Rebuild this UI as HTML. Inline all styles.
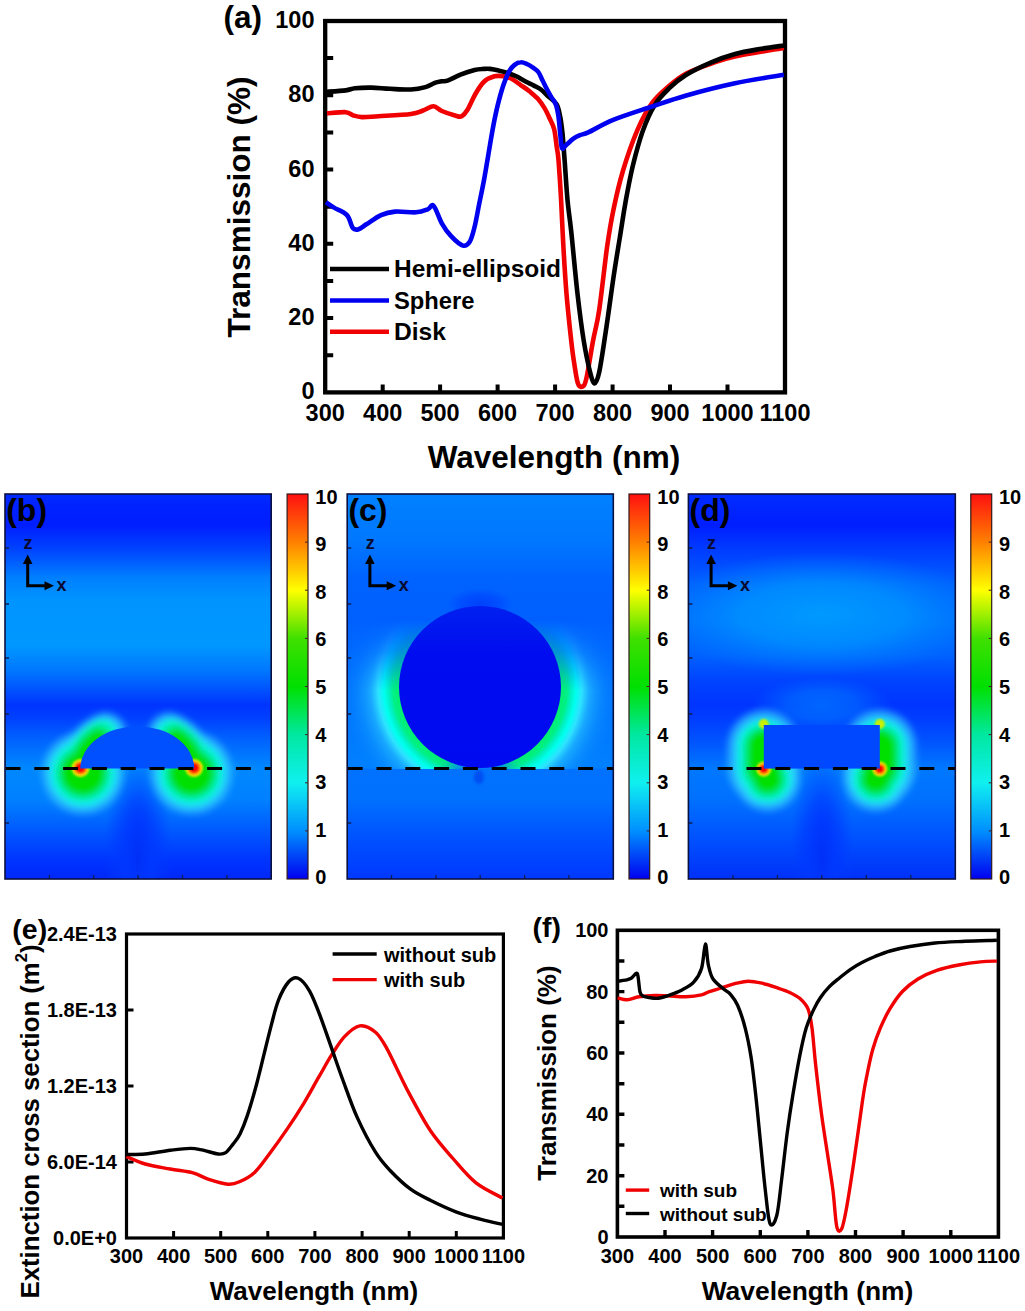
<!DOCTYPE html>
<html><head><meta charset="utf-8"><title>Figure</title>
<style>
html,body{margin:0;padding:0;background:#fff;}
svg{display:block;}
text{font-family:"Liberation Sans", sans-serif;}
</style></head>
<body>
<svg width="1025" height="1311" viewBox="0 0 1025 1311">
<defs><linearGradient id="cbar" x1="0" y1="1" x2="0" y2="0">
<stop offset="0" stop-color="#0000f0"/><stop offset="0.125" stop-color="#0090ff"/>
<stop offset="0.25" stop-color="#10f0f0"/><stop offset="0.375" stop-color="#00e8a0"/>
<stop offset="0.5" stop-color="#00e000"/><stop offset="0.625" stop-color="#40e000"/>
<stop offset="0.75" stop-color="#ffff00"/><stop offset="0.875" stop-color="#ff8000"/>
<stop offset="1" stop-color="#ff1010"/></linearGradient><linearGradient id="bgb" x1="0" y1="0" x2="0" y2="1"><stop offset="0.000" stop-color="#002cff"/><stop offset="0.029" stop-color="#0022ff"/><stop offset="0.081" stop-color="#001eff"/><stop offset="0.145" stop-color="#0044ff"/><stop offset="0.218" stop-color="#0080ff"/><stop offset="0.275" stop-color="#0094ff"/><stop offset="0.392" stop-color="#0098ff"/><stop offset="0.457" stop-color="#0078ff"/><stop offset="0.499" stop-color="#005aff"/><stop offset="0.548" stop-color="#0034ff"/><stop offset="0.582" stop-color="#0040ff"/><stop offset="0.626" stop-color="#005cff"/><stop offset="0.712" stop-color="#0088ff"/><stop offset="0.795" stop-color="#0080ff"/><stop offset="0.873" stop-color="#005aff"/><stop offset="0.951" stop-color="#0034ff"/><stop offset="1.000" stop-color="#0028f8"/></linearGradient><linearGradient id="bgd" x1="0" y1="0" x2="0" y2="1"><stop offset="0.000" stop-color="#002cff"/><stop offset="0.081" stop-color="#001eff"/><stop offset="0.145" stop-color="#003cff"/><stop offset="0.236" stop-color="#0062ff"/><stop offset="0.327" stop-color="#0070ff"/><stop offset="0.418" stop-color="#0062ff"/><stop offset="0.483" stop-color="#0044ff"/><stop offset="0.548" stop-color="#0034ff"/><stop offset="0.592" stop-color="#0040ff"/><stop offset="0.652" stop-color="#0058ff"/><stop offset="0.712" stop-color="#0078ff"/><stop offset="0.795" stop-color="#0070ff"/><stop offset="0.899" stop-color="#0050ff"/><stop offset="1.000" stop-color="#0030f8"/></linearGradient><linearGradient id="bgc" x1="0" y1="0" x2="0" y2="1"><stop offset="0.000" stop-color="#0080ff"/><stop offset="0.119" stop-color="#0078ff"/><stop offset="0.223" stop-color="#0062ff"/><stop offset="0.327" stop-color="#0060ff"/><stop offset="0.483" stop-color="#0070ff"/><stop offset="0.712" stop-color="#0080ff"/><stop offset="0.714" stop-color="#0072ff"/><stop offset="0.795" stop-color="#0070ff"/><stop offset="0.899" stop-color="#0050ff"/><stop offset="1.000" stop-color="#0038ff"/></linearGradient><radialGradient id="lobe"><stop offset="0" stop-color="#00e000" stop-opacity="1"/><stop offset="0.3" stop-color="#00e000" stop-opacity="1"/><stop offset="0.5" stop-color="#00e860" stop-opacity="1"/><stop offset="0.62" stop-color="#00f0c0" stop-opacity="1"/><stop offset="0.72" stop-color="#10f8f8" stop-opacity="1"/><stop offset="0.82" stop-color="#20c8ff" stop-opacity="0.8"/><stop offset="0.91" stop-color="#0098ff" stop-opacity="0.45"/><stop offset="1" stop-color="#0080ff" stop-opacity="0"/></radialGradient><radialGradient id="hot"><stop offset="0" stop-color="#ff0000" stop-opacity="1"/><stop offset="0.55" stop-color="#ff0800" stop-opacity="1"/><stop offset="0.72" stop-color="#ff9000" stop-opacity="1"/><stop offset="0.86" stop-color="#f0f000" stop-opacity="0.9"/><stop offset="1" stop-color="#80f000" stop-opacity="0"/></radialGradient><radialGradient id="glow"><stop offset="0" stop-color="#00e030" stop-opacity="1"/><stop offset="0.4" stop-color="#00e880" stop-opacity="1"/><stop offset="0.65" stop-color="#10f4e8" stop-opacity="0.9"/><stop offset="0.82" stop-color="#20b8fc" stop-opacity="0.5"/><stop offset="1" stop-color="#0a80f8" stop-opacity="0"/></radialGradient><radialGradient id="azure"><stop offset="0" stop-color="#009cff" stop-opacity="0.95"/><stop offset="0.5" stop-color="#0094ff" stop-opacity="0.75"/><stop offset="1" stop-color="#0080ff" stop-opacity="0"/></radialGradient><radialGradient id="dark"><stop offset="0" stop-color="#0030f8" stop-opacity="0.95"/><stop offset="0.6" stop-color="#0038ff" stop-opacity="0.6"/><stop offset="1" stop-color="#0040ff" stop-opacity="0"/></radialGradient><radialGradient id="yspot"><stop offset="0" stop-color="#e0f000" stop-opacity="1"/><stop offset="0.3" stop-color="#80f000" stop-opacity="1"/><stop offset="0.6" stop-color="#00e880" stop-opacity="0.8"/><stop offset="1" stop-color="#10e0f0" stop-opacity="0"/></radialGradient><radialGradient id="ring"><stop offset="0" stop-color="#00f070" stop-opacity="1"/><stop offset="0.574468085106383" stop-color="#00f070" stop-opacity="1"/><stop offset="0.6170212765957447" stop-color="#00f088" stop-opacity="1"/><stop offset="0.6453900709219859" stop-color="#00f0c0" stop-opacity="1"/><stop offset="0.6808510638297872" stop-color="#00fff0" stop-opacity="1"/><stop offset="0.723404255319149" stop-color="#30e8ff" stop-opacity="0.95"/><stop offset="0.7801418439716312" stop-color="#20b8ff" stop-opacity="0.75"/><stop offset="0.8723404255319149" stop-color="#1098ff" stop-opacity="0.45"/><stop offset="1" stop-color="#0080ff" stop-opacity="0"/></radialGradient><linearGradient id="ringmaskg" x1="0" y1="0" x2="0" y2="1"><stop offset="0" stop-color="#000"/><stop offset="0.3" stop-color="#000"/><stop offset="0.45" stop-color="#555"/><stop offset="0.63" stop-color="#fff"/><stop offset="1" stop-color="#fff"/></linearGradient><mask id="ringmask" maskUnits="userSpaceOnUse" x="340" y="490" width="280" height="400"><rect x="340" y="557" width="280" height="212" fill="url(#ringmaskg)"/><ellipse cx="480" cy="772" rx="30" ry="22" fill="#000" filter="url(#bl8)"/></mask><linearGradient id="sph" x1="0" y1="0" x2="0" y2="1"><stop offset="0" stop-color="#0020f0"/><stop offset="0.3" stop-color="#000cf0"/><stop offset="1" stop-color="#000af0"/></linearGradient><filter id="bl1" filterUnits="userSpaceOnUse" x="0" y="400" width="1025" height="520"><feGaussianBlur stdDeviation="1"/></filter><filter id="bl2" filterUnits="userSpaceOnUse" x="0" y="400" width="1025" height="520"><feGaussianBlur stdDeviation="1.5"/></filter><filter id="bl3" filterUnits="userSpaceOnUse" x="0" y="400" width="1025" height="520"><feGaussianBlur stdDeviation="3.5"/></filter><filter id="bl4" filterUnits="userSpaceOnUse" x="0" y="400" width="1025" height="520"><feGaussianBlur stdDeviation="4"/></filter><filter id="bl5" filterUnits="userSpaceOnUse" x="0" y="400" width="1025" height="520"><feGaussianBlur stdDeviation="5"/></filter><filter id="bl8" filterUnits="userSpaceOnUse" x="0" y="400" width="1025" height="520"><feGaussianBlur stdDeviation="8"/></filter></defs>
<rect width="1025" height="1311" fill="#fff"/>
<rect x="325.2" y="21.0" width="459.8" height="371.4" fill="none" stroke="#000" stroke-width="4.3"/>
<path d="M382.7,392.4 v-8 M440.1,392.4 v-8 M497.6,392.4 v-8 M555.1,392.4 v-8 M612.6,392.4 v-8 M670.0,392.4 v-8 M727.5,392.4 v-8 M325.2,355.3 h8 M325.2,318.1 h8 M325.2,281.0 h8 M325.2,243.8 h8 M325.2,206.7 h8 M325.2,169.6 h8 M325.2,132.4 h8 M325.2,95.3 h8 M325.2,58.1 h8" stroke="#000" stroke-width="4"/>
<text x="325.2" y="421" font-size="23.5" font-weight="bold" text-anchor="middle" >300</text>
<text x="382.7" y="421" font-size="23.5" font-weight="bold" text-anchor="middle" >400</text>
<text x="440.1" y="421" font-size="23.5" font-weight="bold" text-anchor="middle" >500</text>
<text x="497.6" y="421" font-size="23.5" font-weight="bold" text-anchor="middle" >600</text>
<text x="555.1" y="421" font-size="23.5" font-weight="bold" text-anchor="middle" >700</text>
<text x="612.6" y="421" font-size="23.5" font-weight="bold" text-anchor="middle" >800</text>
<text x="670.0" y="421" font-size="23.5" font-weight="bold" text-anchor="middle" >900</text>
<text x="727.5" y="421" font-size="23.5" font-weight="bold" text-anchor="middle" >1000</text>
<text x="785.0" y="421" font-size="23.5" font-weight="bold" text-anchor="middle" >1100</text>
<text x="314.5" y="399.4" font-size="23.5" font-weight="bold" text-anchor="end" >0</text>
<text x="314.5" y="325.1" font-size="23.5" font-weight="bold" text-anchor="end" >20</text>
<text x="314.5" y="250.8" font-size="23.5" font-weight="bold" text-anchor="end" >40</text>
<text x="314.5" y="176.6" font-size="23.5" font-weight="bold" text-anchor="end" >60</text>
<text x="314.5" y="102.3" font-size="23.5" font-weight="bold" text-anchor="end" >80</text>
<text x="314.5" y="28.0" font-size="23.5" font-weight="bold" text-anchor="end" >100</text>
<text x="223.5" y="28" font-size="31.5" font-weight="bold" text-anchor="start" >(a)</text>
<text x="554" y="467.5" font-size="31.5" font-weight="bold" text-anchor="middle" >Wavelength (nm)</text>
<text transform="translate(250,207) rotate(-90)" font-size="31.5" font-weight="bold" text-anchor="middle">Transmission (%)</text>
<g fill="none" stroke-width="4.6" stroke-linejoin="round">
<path d="M327.0,113.4 C330.1,113.2 341.5,111.9 345.8,112.2 C350.1,112.5 350.1,114.4 352.8,115.2 C355.5,116.0 357.7,116.9 362.0,117.1 C366.3,117.3 370.3,116.7 378.5,116.2 C386.7,115.7 403.6,115.0 411.0,114.0 C418.4,113.0 419.2,111.8 423.0,110.5 C426.8,109.2 430.5,106.2 433.6,106.3 C436.7,106.4 438.1,109.4 441.8,111.0 C445.5,112.6 452.5,114.8 455.8,115.7 C459.1,116.6 459.8,117.2 461.7,116.2 C463.6,115.2 465.2,113.6 467.5,109.8 C469.8,106.0 472.9,98.2 475.7,93.5 C478.4,88.8 480.9,84.6 484.0,81.7 C487.1,78.8 491.2,77.2 494.4,76.3 C497.6,75.4 500.3,75.8 503.2,76.3 C506.1,76.8 509.1,77.5 512.0,79.0 C514.9,80.5 517.8,83.0 520.7,85.1 C523.6,87.1 526.6,88.9 529.5,91.3 C532.4,93.7 535.8,96.4 538.3,99.2 C540.8,102.0 542.5,104.7 544.4,107.9 C546.3,111.1 548.1,115.0 549.7,118.5 C551.3,122.0 552.9,124.3 554.1,129.0 C555.3,133.7 556.0,141.4 556.7,146.6 C557.4,151.8 557.8,151.1 558.5,160.0 C559.2,168.9 560.3,185.5 561.1,200.0 C561.9,214.5 562.5,231.2 563.4,246.8 C564.3,262.4 565.2,278.1 566.5,293.7 C567.8,309.3 569.9,328.8 571.2,340.5 C572.5,352.2 573.1,356.6 574.3,363.9 C575.5,371.2 576.6,380.5 578.2,384.2 C579.8,387.9 582.3,387.1 583.7,385.8 C585.1,384.5 585.2,383.9 586.8,376.4 C588.4,368.8 591.0,351.7 593.1,340.5 C595.2,329.3 597.0,324.9 599.3,309.3 C601.6,293.7 604.8,263.4 607.1,246.8 C609.5,230.2 610.8,222.6 613.4,210.0 C616.0,197.4 618.9,184.4 622.9,171.0 C626.9,157.6 632.7,141.0 637.6,129.6 C642.5,118.2 646.9,110.1 652.2,102.8 C657.5,95.5 663.6,90.6 669.3,85.7 C675.0,80.8 679.4,77.2 686.3,73.5 C693.2,69.8 702.6,66.6 710.7,63.8 C718.8,61.0 722.8,59.1 735.0,56.5 C747.2,53.9 775.8,49.3 783.9,47.9" stroke="#f00000"/>
<path d="M327.0,91.8 C330.1,91.6 341.1,91.0 345.8,90.4 C350.5,89.8 350.7,88.8 355.0,88.3 C359.3,87.8 365.7,87.5 371.5,87.6 C377.3,87.7 383.4,88.5 390.0,88.8 C396.6,89.1 405.1,89.8 411.0,89.5 C416.9,89.2 421.4,88.2 425.4,87.1 C429.4,86.0 432.1,83.9 434.8,82.9 C437.5,81.9 439.7,81.7 441.8,81.3 C443.9,80.9 444.5,81.7 447.6,80.6 C450.7,79.5 456.0,76.5 460.5,74.7 C465.0,72.9 470.7,71.0 474.6,70.0 C478.5,69.0 481.4,69.1 484.0,68.9 C486.6,68.7 487.5,68.6 490.0,68.9 C492.5,69.2 495.9,69.9 498.8,70.6 C501.7,71.2 504.7,71.8 507.6,72.8 C510.5,73.8 513.4,74.9 516.3,76.3 C519.2,77.7 522.2,79.7 525.1,81.2 C528.0,82.8 531.3,84.2 533.9,85.6 C536.5,87.0 538.5,87.7 540.9,89.5 C543.3,91.3 545.9,94.1 548.5,96.6 C551.1,99.1 554.8,101.1 556.7,104.4 C558.7,107.8 559.3,112.6 560.2,116.7 C561.1,120.8 561.5,125.5 562.0,129.0 C562.5,132.5 562.5,132.6 562.9,137.8 C563.3,143.0 563.8,149.6 564.6,160.0 C565.4,170.4 566.4,188.1 567.5,200.0 C568.6,211.9 569.5,215.6 571.2,231.2 C572.9,246.8 575.4,275.5 577.5,293.7 C579.6,311.9 581.6,327.5 583.7,340.5 C585.8,353.5 588.2,364.6 590.0,371.7 C591.8,378.8 593.1,383.4 594.6,383.4 C596.1,383.4 597.5,380.1 599.3,371.7 C601.1,363.2 603.2,348.3 605.6,332.7 C608.0,317.1 611.1,293.6 613.4,278.0 C615.7,262.4 617.5,252.0 619.6,239.0 C621.7,226.0 623.7,212.1 625.9,200.0 C628.1,187.9 630.0,177.5 632.7,166.2 C635.5,154.9 638.8,142.2 642.4,132.0 C646.0,121.8 650.1,112.5 654.6,105.2 C659.1,97.9 664.0,93.3 669.3,88.2 C674.6,83.1 679.4,79.1 686.3,74.8 C693.2,70.5 702.6,66.1 710.7,62.6 C718.8,59.1 726.9,56.2 735.0,54.0 C743.1,51.8 751.4,50.5 759.5,49.1 C767.6,47.7 779.8,46.1 783.9,45.5" stroke="#000"/>
<path d="M326.0,202.2 C327.3,203.1 330.5,205.4 334.0,207.6 C337.5,209.8 343.9,211.7 347.0,215.1 C350.1,218.5 350.9,225.7 352.8,228.0 C354.7,230.3 356.3,229.9 358.6,229.2 C360.9,228.5 363.1,226.3 366.8,224.0 C370.5,221.7 376.3,217.2 381.0,215.1 C385.7,213.0 389.2,212.1 395.0,211.6 C400.8,211.1 410.6,212.7 416.0,212.3 C421.4,211.9 424.8,210.4 427.7,209.3 C430.6,208.2 431.2,203.5 433.6,205.8 C436.0,208.1 438.9,218.2 441.8,223.3 C444.7,228.4 447.6,232.5 451.1,236.2 C454.6,239.9 459.8,244.7 462.9,245.6 C466.0,246.5 467.9,244.5 469.9,241.4 C471.8,238.3 473.0,233.1 474.6,226.8 C476.2,220.5 477.7,211.2 479.3,203.4 C480.9,195.6 482.2,189.8 484.0,180.0 C485.8,170.2 488.3,154.8 490.0,144.8 C491.7,134.8 492.9,127.5 494.4,120.2 C495.9,112.9 497.2,107.0 498.8,100.9 C500.4,94.8 502.2,88.4 504.0,83.4 C505.8,78.4 507.5,74.2 509.3,71.1 C511.1,68.0 512.7,66.4 514.6,64.9 C516.5,63.4 518.7,62.4 520.7,62.3 C522.8,62.1 524.9,63.1 526.9,64.0 C528.9,64.9 531.1,66.3 533.0,67.6 C534.9,68.9 536.7,69.8 538.3,72.0 C539.9,74.2 541.2,77.8 542.7,80.7 C544.2,83.6 545.6,86.7 547.1,89.5 C548.6,92.3 550.0,94.9 551.5,97.4 C553.0,99.9 554.6,101.2 555.8,104.4 C557.0,107.6 557.8,111.9 558.5,116.7 C559.2,121.5 559.6,128.1 560.2,133.4 C560.8,138.7 561.0,146.4 562.0,148.3 C563.0,150.2 564.5,146.4 566.4,144.8 C568.3,143.2 571.1,140.3 573.4,138.7 C575.7,137.1 577.4,136.3 580.0,135.2 C582.6,134.1 583.3,134.6 588.8,132.1 C594.3,129.6 602.6,124.2 613.2,119.9 C623.8,115.6 640.0,110.6 652.2,106.5 C664.4,102.4 672.5,99.4 686.3,95.5 C700.1,91.6 718.7,86.8 735.0,83.3 C751.3,79.8 775.8,76.2 783.9,74.8" stroke="#0000f0"/>
</g>
<path d="M330,269 H389" stroke="#000" stroke-width="4.5"/>
<path d="M330,300.6 H389" stroke="#0000f0" stroke-width="4.5"/>
<path d="M330,331.8 H389" stroke="#f00000" stroke-width="4.5"/>
<text x="394" y="277.3" font-size="24" font-weight="bold" text-anchor="start" textLength="167" lengthAdjust="spacingAndGlyphs">Hemi-ellipsoid</text>
<text x="394" y="308.8" font-size="24" font-weight="bold" text-anchor="start" textLength="80.5" lengthAdjust="spacingAndGlyphs">Sphere</text>
<text x="394" y="340.3" font-size="24" font-weight="bold" text-anchor="start" textLength="52" lengthAdjust="spacingAndGlyphs">Disk</text>
<rect x="126.5" y="934.0" width="376.9" height="304.0" fill="none" stroke="#000" stroke-width="3.2"/>
<path d="M173.6,1238.0 v-7 M220.7,1238.0 v-7 M267.8,1238.0 v-7 M314.9,1238.0 v-7 M362.1,1238.0 v-7 M409.2,1238.0 v-7 M456.3,1238.0 v-7 M126.5,1162.0 h7 M126.5,1086.0 h7 M126.5,1010.0 h7" stroke="#000" stroke-width="3"/>
<text x="126.5" y="1263" font-size="20" font-weight="bold" text-anchor="middle" >300</text>
<text x="173.6" y="1263" font-size="20" font-weight="bold" text-anchor="middle" >400</text>
<text x="220.7" y="1263" font-size="20" font-weight="bold" text-anchor="middle" >500</text>
<text x="267.8" y="1263" font-size="20" font-weight="bold" text-anchor="middle" >600</text>
<text x="314.9" y="1263" font-size="20" font-weight="bold" text-anchor="middle" >700</text>
<text x="362.1" y="1263" font-size="20" font-weight="bold" text-anchor="middle" >800</text>
<text x="409.2" y="1263" font-size="20" font-weight="bold" text-anchor="middle" >900</text>
<text x="456.3" y="1263" font-size="20" font-weight="bold" text-anchor="middle" >1000</text>
<text x="503.4" y="1263" font-size="20" font-weight="bold" text-anchor="middle" >1100</text>
<text x="117" y="1245.0" font-size="20" font-weight="bold" text-anchor="end" >0.0E+0</text>
<text x="117" y="1169.0" font-size="20" font-weight="bold" text-anchor="end" >6.0E-14</text>
<text x="117" y="1093.0" font-size="20" font-weight="bold" text-anchor="end" >1.2E-13</text>
<text x="117" y="1017.0" font-size="20" font-weight="bold" text-anchor="end" >1.8E-13</text>
<text x="117" y="941.0" font-size="20" font-weight="bold" text-anchor="end" >2.4E-13</text>
<text x="12.3" y="938.7" font-size="28.5" font-weight="bold" text-anchor="start" >(e)</text>
<text x="314" y="1300" font-size="26" font-weight="bold" text-anchor="middle" >Wavelength (nm)</text>
<text transform="translate(38.6,1121.5) rotate(-90) scale(0.965,1)" font-size="26.7" font-weight="bold" text-anchor="middle">Extinction cross section (m<tspan dy="-11.5" font-size="17">2</tspan><tspan dy="11.5">)</tspan></text>
<g fill="none" stroke-width="3.4" stroke-linejoin="round">
<path d="M126.3,1156.5 C129.4,1157.8 137.9,1161.9 145.2,1164.0 C152.5,1166.1 162.3,1167.5 170.3,1169.0 C178.3,1170.5 186.7,1171.1 193.0,1172.8 C199.3,1174.5 202.1,1177.2 208.0,1179.1 C213.9,1181.0 222.9,1183.8 228.2,1184.2 C233.5,1184.6 235.6,1183.5 240.0,1181.5 C244.4,1179.5 249.7,1177.0 254.6,1172.4 C259.5,1167.8 263.8,1161.3 269.3,1154.0 C274.8,1146.7 281.8,1136.9 287.6,1128.4 C293.4,1119.9 298.9,1111.3 304.1,1102.8 C309.3,1094.3 314.1,1085.1 318.7,1077.2 C323.3,1069.3 327.2,1061.9 331.5,1055.2 C335.8,1048.5 339.6,1041.8 344.3,1036.9 C349.0,1032.0 354.7,1026.7 359.9,1025.9 C365.1,1025.1 371.1,1028.6 375.5,1032.3 C379.9,1036.0 382.4,1040.7 386.5,1047.9 C390.6,1055.1 396.0,1067.3 400.0,1075.3 C404.0,1083.3 405.5,1086.8 410.6,1096.1 C415.7,1105.4 423.7,1120.8 430.8,1131.3 C437.9,1141.8 445.9,1150.4 453.4,1159.0 C460.9,1167.6 467.8,1176.4 476.0,1182.9 C484.2,1189.4 498.1,1195.5 502.5,1198.0" stroke="#f00000"/>
<path d="M126.3,1154.5 C129.4,1154.4 137.9,1154.7 145.2,1154.0 C152.5,1153.3 162.8,1151.1 170.3,1150.2 C177.8,1149.3 185.0,1148.4 190.4,1148.4 C195.8,1148.4 198.4,1149.3 203.0,1150.2 C207.6,1151.1 214.3,1153.6 218.1,1154.0 C221.9,1154.4 223.2,1154.4 225.7,1152.7 C228.2,1151.0 230.8,1147.0 233.2,1143.9 C235.6,1140.8 237.7,1138.6 240.0,1133.9 C242.3,1129.2 244.6,1123.8 247.3,1115.6 C250.1,1107.4 253.8,1094.6 256.5,1084.5 C259.2,1074.4 261.4,1065.0 263.8,1055.2 C266.2,1045.4 268.7,1035.1 271.1,1025.9 C273.5,1016.8 275.5,1007.6 278.4,1000.3 C281.3,993.0 285.2,985.7 288.5,982.0 C291.8,978.3 294.7,976.8 298.2,978.3 C301.7,979.8 305.9,984.7 309.6,991.1 C313.3,997.5 316.9,1007.3 320.5,1016.8 C324.1,1026.3 327.8,1037.5 331.5,1047.9 C335.2,1058.3 338.2,1067.4 342.5,1079.0 C346.8,1090.6 351.7,1105.2 357.2,1117.4 C362.7,1129.6 370.0,1143.4 375.5,1152.2 C381.0,1161.0 384.2,1164.3 390.1,1170.5 C396.0,1176.7 403.8,1184.2 410.6,1189.2 C417.4,1194.2 423.2,1196.7 430.8,1200.5 C438.4,1204.3 447.5,1208.6 455.9,1211.8 C464.3,1215.0 473.3,1217.3 481.1,1219.4 C488.9,1221.5 498.9,1223.6 502.5,1224.4" stroke="#000"/>
</g>
<path d="M332.6,954 H376.7" stroke="#000" stroke-width="3.4"/>
<path d="M332.6,979.6 H376.7" stroke="#f00000" stroke-width="3.4"/>
<text x="384" y="961.5" font-size="20" font-weight="bold" text-anchor="start" >without sub</text>
<text x="384" y="986.7" font-size="20" font-weight="bold" text-anchor="start" >with sub</text>
<rect x="617.4" y="930.3" width="381.0" height="306.70000000000005" fill="none" stroke="#000" stroke-width="3.6"/>
<path d="M665.0,1237.0 v-7 M712.6,1237.0 v-7 M760.3,1237.0 v-7 M807.9,1237.0 v-7 M855.5,1237.0 v-7 M903.1,1237.0 v-7 M950.8,1237.0 v-7 M617.4,1206.3 h7 M617.4,1175.7 h7 M617.4,1145.0 h7 M617.4,1114.3 h7 M617.4,1083.7 h7 M617.4,1053.0 h7 M617.4,1022.3 h7 M617.4,991.6 h7 M617.4,961.0 h7" stroke="#000" stroke-width="3.4"/>
<text x="617.4" y="1263" font-size="20" font-weight="bold" text-anchor="middle" >300</text>
<text x="665.0" y="1263" font-size="20" font-weight="bold" text-anchor="middle" >400</text>
<text x="712.6" y="1263" font-size="20" font-weight="bold" text-anchor="middle" >500</text>
<text x="760.3" y="1263" font-size="20" font-weight="bold" text-anchor="middle" >600</text>
<text x="807.9" y="1263" font-size="20" font-weight="bold" text-anchor="middle" >700</text>
<text x="855.5" y="1263" font-size="20" font-weight="bold" text-anchor="middle" >800</text>
<text x="903.1" y="1263" font-size="20" font-weight="bold" text-anchor="middle" >900</text>
<text x="950.8" y="1263" font-size="20" font-weight="bold" text-anchor="middle" >1000</text>
<text x="998.4" y="1263" font-size="20" font-weight="bold" text-anchor="middle" >1100</text>
<text x="608.5" y="1244.0" font-size="20" font-weight="bold" text-anchor="end" >0</text>
<text x="608.5" y="1182.7" font-size="20" font-weight="bold" text-anchor="end" >20</text>
<text x="608.5" y="1121.3" font-size="20" font-weight="bold" text-anchor="end" >40</text>
<text x="608.5" y="1060.0" font-size="20" font-weight="bold" text-anchor="end" >60</text>
<text x="608.5" y="998.6" font-size="20" font-weight="bold" text-anchor="end" >80</text>
<text x="608.5" y="937.3" font-size="20" font-weight="bold" text-anchor="end" >100</text>
<text x="532.6" y="937" font-size="28.5" font-weight="bold" text-anchor="start" >(f)</text>
<text x="807.5" y="1300" font-size="26.4" font-weight="bold" text-anchor="middle" >Wavelength (nm)</text>
<text transform="translate(555.5,1073) rotate(-90)" font-size="26" font-weight="bold" text-anchor="middle">Transmission (%)</text>
<g fill="none" stroke-width="3.4" stroke-linejoin="round">
<path d="M617.6,997.8 C619.2,998.1 623.7,1000.0 627.3,999.8 C630.9,999.6 634.5,997.5 639.0,996.8 C643.5,996.1 649.7,995.6 654.6,995.5 C659.5,995.4 663.1,995.7 668.3,995.9 C673.5,996.1 680.4,997.0 685.9,996.8 C691.4,996.6 697.6,995.8 701.5,994.9 C705.4,994.0 706.0,992.8 709.3,991.6 C712.5,990.5 716.5,989.4 721.0,988.0 C725.5,986.6 732.1,984.3 736.6,983.2 C741.1,982.1 744.1,981.2 748.3,981.2 C752.5,981.2 757.4,982.2 762.0,983.2 C766.6,984.2 771.3,985.8 776.0,987.4 C780.7,989.0 786.0,990.7 790.0,992.6 C794.0,994.5 797.0,995.9 800.0,998.6 C803.0,1001.4 806.1,1004.2 808.1,1009.1 C810.1,1014.0 810.7,1018.6 812.0,1028.1 C813.3,1037.6 814.2,1051.9 815.8,1066.2 C817.4,1080.5 819.6,1099.6 821.5,1113.9 C823.4,1128.2 825.3,1139.3 827.2,1152.0 C829.1,1164.7 831.3,1177.7 832.9,1190.1 C834.5,1202.5 835.3,1219.8 836.7,1226.3 C838.1,1232.8 839.9,1232.0 841.5,1229.2 C843.1,1226.4 844.2,1220.5 846.3,1209.2 C848.4,1197.9 851.2,1179.7 853.9,1161.5 C856.6,1143.3 860.5,1114.0 862.6,1100.0 C864.7,1086.0 864.8,1085.9 866.5,1077.4 C868.2,1069.0 870.4,1057.6 872.8,1049.3 C875.1,1041.0 877.7,1034.2 880.6,1027.4 C883.5,1020.6 886.4,1014.7 890.0,1008.7 C893.6,1002.7 897.7,996.5 902.4,991.5 C907.1,986.5 912.3,982.5 918.0,979.0 C923.7,975.5 930.0,972.7 936.8,970.4 C943.6,968.1 951.3,966.4 958.6,965.0 C965.9,963.6 974.1,962.5 980.5,961.9 C986.9,961.2 994.2,961.2 996.9,961.1" stroke="#f00000"/>
<path d="M617.6,981.2 C618.9,981.0 623.1,980.7 625.4,980.2 C627.7,979.7 629.4,979.4 631.2,978.3 C633.0,977.2 635.0,973.7 636.1,973.4 C637.2,973.1 637.4,973.2 638.0,976.3 C638.6,979.4 639.2,988.7 640.0,992.0 C640.8,995.3 641.1,994.9 642.9,995.9 C644.7,996.9 648.1,997.4 650.7,997.8 C653.3,998.2 655.2,998.7 658.5,998.2 C661.8,997.7 666.3,996.3 670.2,994.9 C674.1,993.5 678.1,992.1 682.0,990.0 C685.9,987.9 690.5,985.8 693.7,982.2 C697.0,978.6 699.5,974.9 701.5,968.5 C703.5,962.1 704.3,944.8 705.4,944.1 C706.5,943.5 707.0,958.7 708.3,964.6 C709.6,970.5 710.4,975.1 713.2,979.3 C716.0,983.5 722.1,987.6 724.9,990.0 C727.7,992.4 727.9,991.3 730.0,993.8 C732.1,996.3 735.1,999.5 737.6,1005.2 C740.1,1010.9 743.0,1019.5 745.2,1028.1 C747.4,1036.7 749.2,1045.6 751.0,1056.7 C752.8,1067.8 754.1,1080.5 755.7,1094.8 C757.3,1109.1 758.9,1126.6 760.5,1142.5 C762.1,1158.4 763.7,1176.6 765.3,1190.1 C766.9,1203.6 768.1,1219.2 770.0,1223.5 C771.9,1227.8 774.8,1223.0 776.7,1215.8 C778.6,1208.6 779.8,1194.4 781.5,1180.6 C783.2,1166.8 785.3,1147.2 787.2,1132.9 C789.1,1118.6 790.8,1107.5 792.9,1094.8 C795.0,1082.1 797.4,1067.8 799.6,1056.7 C801.8,1045.6 803.8,1036.0 806.2,1028.1 C808.6,1020.2 811.5,1014.2 813.9,1009.1 C816.3,1004.0 817.9,1001.3 820.5,997.5 C823.1,993.7 826.4,989.7 829.6,986.4 C832.9,983.1 836.5,980.4 840.0,977.5 C843.5,974.6 846.9,971.8 850.6,969.3 C854.3,966.8 857.9,964.6 862.0,962.5 C866.1,960.4 870.3,958.4 875.0,956.5 C879.7,954.6 884.2,952.7 890.0,951.0 C895.8,949.3 902.5,947.8 910.0,946.5 C917.5,945.2 925.8,943.9 935.0,943.0 C944.2,942.1 954.7,941.8 965.0,941.3 C975.3,940.8 991.6,940.5 996.9,940.3" stroke="#000"/>
</g>
<path d="M625.8,1190.1 H649.2" stroke="#f00000" stroke-width="3.4"/>
<path d="M625.8,1213.5 H649.2" stroke="#000" stroke-width="3.4"/>
<text x="660" y="1197" font-size="19" font-weight="bold" text-anchor="start" >with sub</text>
<text x="660" y="1220.5" font-size="19" font-weight="bold" text-anchor="start" >without sub</text>
<svg x="5.0" y="494.0" width="266.2" height="385.0" viewBox="5.0 494.0 266.2 385.0" overflow="hidden">
<rect x="5.0" y="494.0" width="266.2" height="385.0" fill="url(#bgb)"/>
<ellipse cx="138" cy="850" rx="34" ry="90" fill="url(#dark)"/>
<g filter="url(#bl3)">
<path d="M80.4,766.5 L80.8,763.2 L81.5,760.0 L82.6,756.8 L84.0,753.7 L85.7,750.7 L87.7,747.8 L90.0,745.0 L92.6,742.4 L95.5,739.9 L98.6,737.6 L102.0,735.5 L105.5,733.6" fill="none" stroke="#30c0ff" stroke-opacity="0.75" stroke-width="42" stroke-linecap="round"/>
<circle cx="83.0" cy="773" r="41" fill="#30c0ff" fill-opacity="0.75"/>
<path d="M80.4,766.5 L80.7,763.4 L81.4,760.4 L82.4,757.3 L83.6,754.4 L85.2,751.5 L87.0,748.7 L89.1,746.1 L91.5,743.5 L94.1,741.1 L96.9,738.8 L100.0,736.7 L103.2,734.8" fill="none" stroke="#10f0f0" stroke-opacity="1" stroke-width="34" stroke-linecap="round"/>
<circle cx="83.0" cy="773" r="34" fill="#10f0f0" fill-opacity="1"/>
<path d="M80.4,766.5 L80.7,763.6 L81.3,760.7 L82.2,757.9 L83.3,755.1 L84.7,752.3 L86.4,749.7 L88.2,747.1 L90.4,744.7 L92.7,742.3 L95.3,740.1 L98.0,738.0 L101.0,736.1" fill="none" stroke="#00f0a0" stroke-opacity="1" stroke-width="28" stroke-linecap="round"/>
<circle cx="83.0" cy="773" r="28" fill="#00f0a0" fill-opacity="1"/>
<path d="M80.4,766.5 L80.7,763.8 L81.2,761.1 L82.0,758.5 L83.0,755.9 L84.2,753.3 L85.6,750.8 L87.3,748.4 L89.1,746.1 L91.2,743.8 L93.4,741.7 L95.8,739.7 L98.4,737.7" fill="none" stroke="#00e000" stroke-opacity="1" stroke-width="20" stroke-linecap="round"/>
<circle cx="83.0" cy="773" r="23" fill="#00e000" fill-opacity="1"/>
</g>
<g filter="url(#bl1)"><circle cx="80.5" cy="768" r="9" fill="#f8e800"/><circle cx="80.5" cy="768" r="6.8" fill="#ff8000"/><circle cx="80.5" cy="768" r="5" fill="#ff0000"/></g>
<g filter="url(#bl3)">
<path d="M194.2,766.5 L193.8,763.2 L193.1,760.0 L192.0,756.8 L190.6,753.7 L188.9,750.7 L186.9,747.8 L184.6,745.0 L182.0,742.4 L179.1,739.9 L176.0,737.6 L172.6,735.5 L169.1,733.6" fill="none" stroke="#30c0ff" stroke-opacity="0.75" stroke-width="42" stroke-linecap="round"/>
<circle cx="191.5" cy="773" r="41" fill="#30c0ff" fill-opacity="0.75"/>
<path d="M194.2,766.5 L193.9,763.4 L193.2,760.4 L192.2,757.3 L191.0,754.4 L189.4,751.5 L187.6,748.7 L185.5,746.1 L183.1,743.5 L180.5,741.1 L177.7,738.8 L174.6,736.7 L171.4,734.8" fill="none" stroke="#10f0f0" stroke-opacity="1" stroke-width="34" stroke-linecap="round"/>
<circle cx="191.5" cy="773" r="34" fill="#10f0f0" fill-opacity="1"/>
<path d="M194.2,766.5 L193.9,763.6 L193.3,760.7 L192.4,757.9 L191.3,755.1 L189.9,752.3 L188.2,749.7 L186.4,747.1 L184.2,744.7 L181.9,742.3 L179.3,740.1 L176.6,738.0 L173.6,736.1" fill="none" stroke="#00f0a0" stroke-opacity="1" stroke-width="28" stroke-linecap="round"/>
<circle cx="191.5" cy="773" r="28" fill="#00f0a0" fill-opacity="1"/>
<path d="M194.2,766.5 L193.9,763.8 L193.4,761.1 L192.6,758.5 L191.6,755.9 L190.4,753.3 L189.0,750.8 L187.3,748.4 L185.5,746.1 L183.4,743.8 L181.2,741.7 L178.8,739.7 L176.2,737.7" fill="none" stroke="#00e000" stroke-opacity="1" stroke-width="20" stroke-linecap="round"/>
<circle cx="191.5" cy="773" r="23" fill="#00e000" fill-opacity="1"/>
</g>
<g filter="url(#bl1)"><circle cx="194.0" cy="768" r="9" fill="#f8e800"/><circle cx="194.0" cy="768" r="6.8" fill="#ff8000"/><circle cx="194.0" cy="768" r="5" fill="#ff0000"/></g>
<ellipse cx="138" cy="860" rx="20" ry="70" fill="url(#dark)"/>
<path d="M80.3,768.6 A57,42.2 0 0 1 194.3,768.6 Z" fill="#0050ff"/>
</svg>
<path d="M5.5,768.6 H271.2" stroke="#000" stroke-width="3" stroke-dasharray="15,13.8"/>
<path d="M49.4,879.0 v-4 M93.7,879.0 v-4 M138.1,879.0 v-4 M182.5,879.0 v-4 M226.8,879.0 v-4 M5.0,548 h4 M5.0,604 h4 M5.0,658 h4 M5.0,714 h4 M5.0,823 h4" stroke="#102050" stroke-width="1.3"/><rect x="5.0" y="494.0" width="266.2" height="385.0" fill="none" stroke="#0a1040" stroke-width="1.6"/><text x="6.2" y="520.6" font-size="32" font-weight="bold">(b)</text><path d="M27.7,585.8 V560 M26.2,585.8 H50.0" stroke="#000" stroke-width="3" fill="none"/><path d="M22.9,564 L27.7,554.5 L32.5,564 Z M44.5,581.3 L54.0,585.8 L44.5,590.3 Z" fill="#000"/><text x="28.0" y="549.3" font-size="18" font-weight="bold" text-anchor="middle" fill="#0a0a30">z</text><text x="56.5" y="591" font-size="18" font-weight="bold" fill="#0a0a30">x</text><rect x="287.1" y="494.0" width="20.899999999999977" height="385.0" fill="url(#cbar)" stroke="#301818" stroke-width="1.2"/><path d="M308.0,542.1 h-3 M308.0,590.2 h-3 M308.0,638.4 h-3 M308.0,686.5 h-3 M308.0,734.6 h-3 M308.0,782.8 h-3 M308.0,830.9 h-3" stroke="#402020" stroke-width="1"/><text x="315.3" y="503.5" font-size="20" font-weight="bold">10</text><text x="315.3" y="551.1" font-size="20" font-weight="bold">9</text><text x="315.3" y="598.7" font-size="20" font-weight="bold">8</text><text x="315.3" y="646.3" font-size="20" font-weight="bold">6</text><text x="315.3" y="693.9" font-size="20" font-weight="bold">5</text><text x="315.3" y="741.5" font-size="20" font-weight="bold">4</text><text x="315.3" y="789.1" font-size="20" font-weight="bold">3</text><text x="315.3" y="836.7" font-size="20" font-weight="bold">1</text><text x="315.3" y="884.3" font-size="20" font-weight="bold">0</text>
<svg x="347.2" y="494.0" width="266.09999999999997" height="385.0" viewBox="347.2 494.0 266.09999999999997 385.0" overflow="hidden">
<rect x="347.2" y="494.0" width="266.09999999999997" height="385.0" fill="url(#bgc)"/>
<ellipse cx="480" cy="604" rx="34" ry="16" fill="url(#dark)" opacity="0.7"/>
<g mask="url(#ringmask)"><circle cx="480" cy="687" r="141" fill="url(#ring)"/></g>
<circle cx="480" cy="687" r="81" fill="url(#sph)"/>
<ellipse cx="479" cy="777" rx="5" ry="7" fill="#0038e8" opacity="0.6" filter="url(#bl2)"/>
</svg>
<path d="M347.7,768.6 H613.3" stroke="#000" stroke-width="3" stroke-dasharray="15,13.8"/>
<path d="M391.5,879.0 v-4 M435.9,879.0 v-4 M480.2,879.0 v-4 M524.6,879.0 v-4 M568.9,879.0 v-4 M347.2,548 h4 M347.2,604 h4 M347.2,658 h4 M347.2,714 h4 M347.2,823 h4" stroke="#102050" stroke-width="1.3"/><rect x="347.2" y="494.0" width="266.09999999999997" height="385.0" fill="none" stroke="#0a1040" stroke-width="1.6"/><text x="348.4" y="520.6" font-size="32" font-weight="bold">(c)</text><path d="M369.9,585.8 V560 M368.4,585.8 H392.2" stroke="#000" stroke-width="3" fill="none"/><path d="M365.09999999999997,564 L369.9,554.5 L374.7,564 Z M386.7,581.3 L396.2,585.8 L386.7,590.3 Z" fill="#000"/><text x="370.2" y="549.3" font-size="18" font-weight="bold" text-anchor="middle" fill="#0a0a30">z</text><text x="398.7" y="591" font-size="18" font-weight="bold" fill="#0a0a30">x</text><rect x="629.0" y="494.0" width="20.700000000000045" height="385.0" fill="url(#cbar)" stroke="#301818" stroke-width="1.2"/><path d="M649.7,542.1 h-3 M649.7,590.2 h-3 M649.7,638.4 h-3 M649.7,686.5 h-3 M649.7,734.6 h-3 M649.7,782.8 h-3 M649.7,830.9 h-3" stroke="#402020" stroke-width="1"/><text x="657.3" y="503.5" font-size="20" font-weight="bold">10</text><text x="657.3" y="551.1" font-size="20" font-weight="bold">9</text><text x="657.3" y="598.7" font-size="20" font-weight="bold">8</text><text x="657.3" y="646.3" font-size="20" font-weight="bold">6</text><text x="657.3" y="693.9" font-size="20" font-weight="bold">5</text><text x="657.3" y="741.5" font-size="20" font-weight="bold">4</text><text x="657.3" y="789.1" font-size="20" font-weight="bold">3</text><text x="657.3" y="836.7" font-size="20" font-weight="bold">1</text><text x="657.3" y="884.3" font-size="20" font-weight="bold">0</text>
<svg x="688.4" y="494.0" width="266.9" height="385.0" viewBox="688.4 494.0 266.9 385.0" overflow="hidden">
<rect x="688.4" y="494.0" width="266.9" height="385.0" fill="url(#bgd)"/>
<ellipse cx="822" cy="614" rx="170" ry="62" fill="url(#azure)"/>
<ellipse cx="822" cy="705" rx="70" ry="28" fill="url(#azure)" opacity="0.5"/>
<ellipse cx="822" cy="850" rx="32" ry="90" fill="url(#dark)"/>
<g filter="url(#bl3)">
<path d="M763.8,746 V768" fill="none" stroke="#30c0ff" stroke-opacity="0.75" stroke-width="72" stroke-linecap="round"/>
<circle cx="767.8" cy="779" r="32" fill="#30c0ff" fill-opacity="0.75"/>
<path d="M763.8,746 V768" fill="none" stroke="#10f0f0" stroke-opacity="1" stroke-width="56" stroke-linecap="round"/>
<circle cx="767.8" cy="779" r="25" fill="#10f0f0" fill-opacity="1"/>
<path d="M763.8,746 V768" fill="none" stroke="#00f0a0" stroke-opacity="1" stroke-width="44" stroke-linecap="round"/>
<circle cx="767.8" cy="779" r="20" fill="#00f0a0" fill-opacity="1"/>
<path d="M763.8,746 V768" fill="none" stroke="#00e000" stroke-opacity="1" stroke-width="34" stroke-linecap="round"/>
<circle cx="767.8" cy="779" r="15" fill="#00e000" fill-opacity="1"/>
</g>
<g filter="url(#bl1)"><circle cx="763.8" cy="769" r="7.5" fill="#f8e800"/><circle cx="763.8" cy="769" r="5.6" fill="#ff8000"/><circle cx="763.8" cy="769" r="4" fill="#ff0000"/></g>
<circle cx="763.8" cy="724" r="5" fill="#c8f000" filter="url(#bl1)"/>
<g filter="url(#bl3)">
<path d="M879.8,746 V768" fill="none" stroke="#30c0ff" stroke-opacity="0.75" stroke-width="72" stroke-linecap="round"/>
<circle cx="875.8" cy="779" r="32" fill="#30c0ff" fill-opacity="0.75"/>
<path d="M879.8,746 V768" fill="none" stroke="#10f0f0" stroke-opacity="1" stroke-width="56" stroke-linecap="round"/>
<circle cx="875.8" cy="779" r="25" fill="#10f0f0" fill-opacity="1"/>
<path d="M879.8,746 V768" fill="none" stroke="#00f0a0" stroke-opacity="1" stroke-width="44" stroke-linecap="round"/>
<circle cx="875.8" cy="779" r="20" fill="#00f0a0" fill-opacity="1"/>
<path d="M879.8,746 V768" fill="none" stroke="#00e000" stroke-opacity="1" stroke-width="34" stroke-linecap="round"/>
<circle cx="875.8" cy="779" r="15" fill="#00e000" fill-opacity="1"/>
</g>
<g filter="url(#bl1)"><circle cx="879.8" cy="769" r="7.5" fill="#f8e800"/><circle cx="879.8" cy="769" r="5.6" fill="#ff8000"/><circle cx="879.8" cy="769" r="4" fill="#ff0000"/></g>
<circle cx="879.8" cy="724" r="5" fill="#c8f000" filter="url(#bl1)"/>
<ellipse cx="822" cy="860" rx="18" ry="70" fill="url(#dark)"/>
<rect x="763.8" y="725" width="116" height="43.6" fill="#0048ff"/>
</svg>
<path d="M688.9,768.6 H955.3" stroke="#000" stroke-width="3" stroke-dasharray="15,13.8"/>
<path d="M732.9,879.0 v-4 M777.4,879.0 v-4 M821.8,879.0 v-4 M866.3,879.0 v-4 M910.8,879.0 v-4 M688.4,548 h4 M688.4,604 h4 M688.4,658 h4 M688.4,714 h4 M688.4,823 h4" stroke="#102050" stroke-width="1.3"/><rect x="688.4" y="494.0" width="266.9" height="385.0" fill="none" stroke="#0a1040" stroke-width="1.6"/><text x="689.6" y="520.6" font-size="32" font-weight="bold">(d)</text><path d="M711.1,585.8 V560 M709.6,585.8 H733.4" stroke="#000" stroke-width="3" fill="none"/><path d="M706.3000000000001,564 L711.1,554.5 L715.9,564 Z M727.9,581.3 L737.4,585.8 L727.9,590.3 Z" fill="#000"/><text x="711.4" y="549.3" font-size="18" font-weight="bold" text-anchor="middle" fill="#0a0a30">z</text><text x="739.9" y="591" font-size="18" font-weight="bold" fill="#0a0a30">x</text><rect x="970.8" y="494.0" width="20.90000000000009" height="385.0" fill="url(#cbar)" stroke="#301818" stroke-width="1.2"/><path d="M991.7,542.1 h-3 M991.7,590.2 h-3 M991.7,638.4 h-3 M991.7,686.5 h-3 M991.7,734.6 h-3 M991.7,782.8 h-3 M991.7,830.9 h-3" stroke="#402020" stroke-width="1"/><text x="999.0" y="503.5" font-size="20" font-weight="bold">10</text><text x="999.0" y="551.1" font-size="20" font-weight="bold">9</text><text x="999.0" y="598.7" font-size="20" font-weight="bold">8</text><text x="999.0" y="646.3" font-size="20" font-weight="bold">6</text><text x="999.0" y="693.9" font-size="20" font-weight="bold">5</text><text x="999.0" y="741.5" font-size="20" font-weight="bold">4</text><text x="999.0" y="789.1" font-size="20" font-weight="bold">3</text><text x="999.0" y="836.7" font-size="20" font-weight="bold">1</text><text x="999.0" y="884.3" font-size="20" font-weight="bold">0</text>
</svg>
</body></html>
